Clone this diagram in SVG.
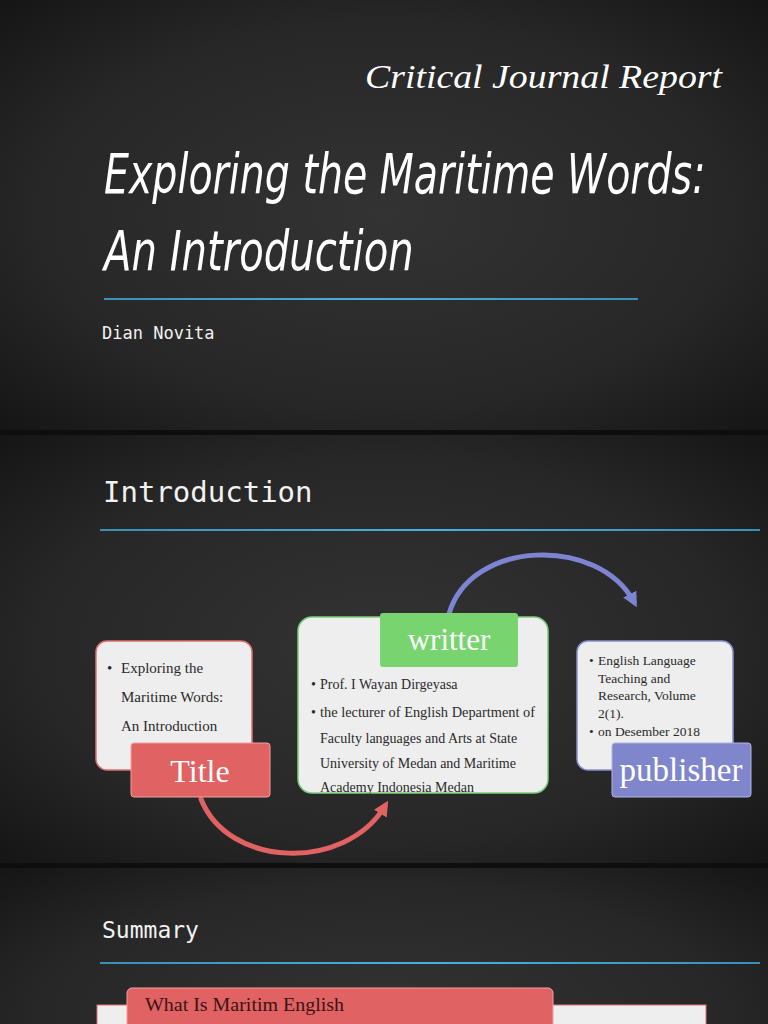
<svg xmlns="http://www.w3.org/2000/svg" width="768" height="1024" viewBox="0 0 768 1024">
<defs>
<radialGradient id="board" cx="50%" cy="50%" r="75%">
<stop offset="0" stop-color="#333333"/>
<stop offset="0.6" stop-color="#272727"/>
<stop offset="1" stop-color="#121212"/>
</radialGradient>
<linearGradient id="chalk" x1="0" x2="1" y1="0" y2="0">
<stop offset="0" stop-color="#3b8fb5"/>
<stop offset="0.5" stop-color="#49b0dc"/>
<stop offset="1" stop-color="#3a8fb8"/>
</linearGradient>
<marker id="arrRed" viewBox="0 0 10 10" refX="6" refY="5" markerWidth="3" markerHeight="3" orient="auto">
<path d="M0,0 L10,5 L0,10 Z" fill="#e06262"/>
</marker>
<marker id="arrBlue" viewBox="0 0 10 10" refX="6" refY="5" markerWidth="3" markerHeight="3" orient="auto">
<path d="M0,0 L10,5 L0,10 Z" fill="#7d85d2"/>
</marker>
<style>
.mono{font-family:"DejaVu Sans Mono","Liberation Mono",monospace;fill:#f2f2f2}
.serif{font-family:"Liberation Serif","DejaVu Serif",serif}
.body{font-family:"Liberation Serif","DejaVu Serif",serif;fill:#2a2a2a}
.card{fill:#eeeeee;stroke-width:1.5}
.tagtext{font-family:"Liberation Serif","DejaVu Serif",serif;fill:#ffffff;text-anchor:middle}
.thin{font-family:"Liberation Sans Narrow","DejaVu Sans Condensed","Liberation Sans",sans-serif;font-style:italic;fill:#ffffff}
</style>
</defs>

<rect x="0" y="0" width="768" height="1024" fill="#0e0e0e"/>
<rect x="0" y="0" width="768" height="430" fill="url(#board)"/>
<rect x="0" y="435" width="768" height="428" fill="url(#board)"/>
<rect x="0" y="868" width="768" height="300" fill="url(#board)"/>

<!-- Slide 1 -->
<g id="slide1">
<text x="722" y="88" class="serif" font-style="italic" font-size="34" fill="#ffffff" text-anchor="end" textLength="357" lengthAdjust="spacingAndGlyphs">Critical Journal Report</text>
<text transform="translate(104,193) scale(0.75,1)" x="0" y="0" class="thin" font-size="56" textLength="802" lengthAdjust="spacingAndGlyphs">Exploring the Maritime Words:</text>
<text transform="translate(104,270) scale(0.75,1)" x="0" y="0" class="thin" font-size="56" textLength="413" lengthAdjust="spacingAndGlyphs">An Introduction</text>
<rect x="104" y="298" width="534" height="2" fill="url(#chalk)"/>
<text x="102" y="339" class="mono" font-size="17">Dian Novita</text>
</g>

<!-- Slide 2 -->
<g id="slide2-heading">
<text x="103" y="502" class="mono" font-size="29">Introduction</text>
<rect x="100" y="529" width="660" height="2" fill="url(#chalk)"/>
</g>

<g id="connectors" fill="none" stroke-width="5" stroke-linecap="round">
<path d="M201,799 C228,868 345,872 385,806" stroke="#e06262" marker-end="url(#arrRed)"/>
<path d="M449,614 C470,540 598,535 634,602" stroke="#7d85d2" marker-end="url(#arrBlue)"/>
</g>

<g id="node-title">
<rect x="96" y="641" width="156" height="129" rx="11" class="card" stroke="#e07070"/>
<text class="body" font-size="15">
<tspan x="107" y="673">•</tspan>
<tspan x="121" y="673">Exploring the</tspan>
<tspan x="121" y="702">Maritime Words:</tspan>
<tspan x="121" y="731">An Introduction</tspan>
</text>
<rect x="131" y="743" width="139" height="54" rx="3" fill="#e06262" stroke="#f0a0a0" stroke-width="1"/>
<text x="200" y="782" class="tagtext" font-size="32">Title</text>
</g>

<g id="node-writer">
<rect x="298" y="617" width="250" height="176" rx="14" class="card" stroke="#7ccc7c"/>
<rect x="380" y="613" width="138" height="54" rx="3" fill="#77d46e"/>
<text x="449" y="650" class="tagtext" font-size="31">writter</text>
<text class="body" font-size="14">
<tspan x="311" y="689">•</tspan>
<tspan x="320" y="689">Prof. I Wayan Dirgeyasa</tspan>
<tspan x="311" y="717">•</tspan>
<tspan x="320" y="717" textLength="215" lengthAdjust="spacingAndGlyphs">the lecturer of English Department of</tspan>
<tspan x="320" y="743">Faculty languages and Arts at State</tspan>
<tspan x="320" y="768">University of Medan and Maritime</tspan>
<tspan x="320" y="792">Academy Indonesia Medan</tspan>
</text>
</g>

<g id="node-publisher">
<rect x="577" y="641" width="156" height="129" rx="11" class="card" stroke="#8a90cc"/>
<text class="body" font-size="13.5">
<tspan x="589" y="665">•</tspan>
<tspan x="598" y="665">English Language</tspan>
<tspan x="598" y="683">Teaching and</tspan>
<tspan x="598" y="700">Research, Volume</tspan>
<tspan x="598" y="718">2(1).</tspan>
<tspan x="589" y="736">•</tspan>
<tspan x="598" y="736">on Desember 2018</tspan>
</text>
<rect x="612" y="743" width="139" height="54" rx="3" fill="#7f86cc" stroke="#b0b4e0" stroke-width="1"/>
<text x="681" y="781" class="tagtext" font-size="33">publisher</text>
</g>

<!-- Slide 3 -->
<g id="slide3-heading">
<text x="102" y="938" class="mono" font-size="23">Summary</text>
<rect x="100" y="962" width="660" height="2" fill="url(#chalk)"/>
</g>

<g id="node-summary">
<rect x="97" y="1005" width="609" height="40" fill="#eeeeee" stroke="#e07070" stroke-width="1"/>
<rect x="127" y="988" width="426" height="50" rx="5" fill="#e06262" stroke="#f0a0a0" stroke-width="1"/>
<text x="145" y="1011" class="serif" font-size="19" fill="#3a1414" textLength="199" lengthAdjust="spacingAndGlyphs">What Is Maritim English</text>
</g>
</svg>
